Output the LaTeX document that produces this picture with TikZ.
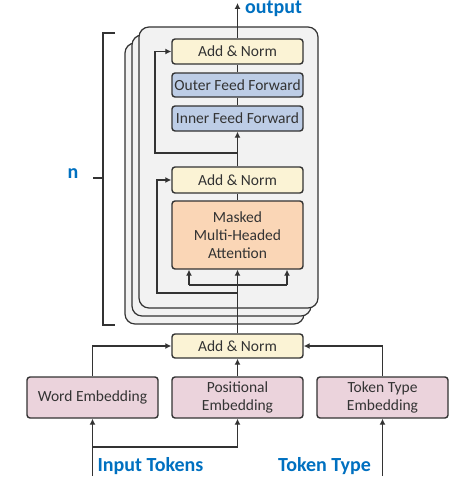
\documentclass[tikz,border=0pt]{standalone}
\usepackage{fontspec}
\setmainfont{Carlito}
\usetikzlibrary{arrows.meta}
\definecolor{normc}{HTML}{FBF3D5}
\definecolor{ffc}{HTML}{BDCDE6}
\definecolor{attc}{HTML}{FAD6B6}
\definecolor{embc}{HTML}{EBD3DC}
\definecolor{panelc}{HTML}{F2F2F2}
\definecolor{edgec}{HTML}{333333}
\definecolor{labc}{RGB}{0,112,192}
\tikzset{
  blk/.style={draw=edgec, line width=1.4pt, rounded corners=3pt, minimum width=131pt, inner sep=0pt, align=center, font=\fontsize{15.5}{18}\selectfont, text=black!80},
  norm/.style={blk, fill=normc},
  ff/.style={blk, fill=ffc},
  att/.style={blk, fill=attc},
  emb/.style={blk, fill=embc},
  panel/.style={draw=edgec, line width=1.2pt, fill=panelc, rounded corners=10pt},
  conn/.style={draw=edgec, line width=1.5pt},
  arr/.style={conn, -{Latex[length=6pt,width=6pt]}},
  lab/.style={text=labc, font=\bfseries\fontsize{20}{22}\selectfont, inner sep=0pt, anchor=base}
}
\begin{document}
\begin{tikzpicture}[x=1pt,y=-1pt]
\useasboundingbox (0,0) rectangle (474,495);
% stacked panels
\draw[panel] (125,43) rectangle (304,324);
\draw[panel] (132,35) rectangle (311,316);
\draw[panel] (139,27) rectangle (318,308);
% bracket
\draw[conn, line width=1.3pt] (115,33) -- (103,33) -- (103,325) -- (115,325);
\draw[conn, line width=1.3pt] (103,178) -- (93,178);
\node[lab] (nlab) at (73,178) {n};
% blocks
\node[norm, minimum height=25pt] (an3) at (237.5,51.5) {Add \& Norm};
\node[ff, minimum height=24pt] (off) at (237.5,85) {Outer Feed Forward};
\node[ff, minimum height=25pt] (iff) at (237.5,118.5) {Inner Feed Forward};
\node[norm, minimum height=26pt] (an2) at (237.5,180) {Add \& Norm};
\node[att, minimum height=68pt] (mha) at (237.5,235) {Masked\\Multi-Headed\\Attention};
\node[norm, minimum height=24pt] (an1) at (237.5,346) {Add \& Norm};
\node[emb, minimum height=41pt] (we) at (92.5,397.5) {Word Embedding};
\node[emb, minimum height=41pt] (pe) at (237.5,397.5) {Positional\\Embedding};
\node[emb, minimum height=41pt] (te) at (382.5,397.5) {Token Type\\Embedding};
% coordinates
\coordinate (out) at (237.5,3);
\coordinate (ma) at (189,285);
\coordinate (mc) at (287,285);
\coordinate (r1) at (237.5,293);
\coordinate (r1l) at (157,293);
\coordinate (r2) at (237.5,153);
\coordinate (r2l) at (155,153);
\coordinate (inA) at (92.5,476);
\coordinate (inB) at (92.5,447);
\coordinate (inC) at (382.5,476);
% connectors
\draw[arr] (an1.north) -- (mha.south);
\draw[conn] (ma) -- (mc);
\draw[arr] (ma) -- (ma |- mha.south);
\draw[arr] (mc) -- (mc |- mha.south);
\draw[arr] (r1) -- (r1l) |- (an2.west);
\draw[conn] (mha.north) -- (an2.south);
\draw[arr] (an2.north) -- (iff.south);
\draw[arr] (r2) -- (r2l) |- (an3.west);
\draw[conn] (iff.north) -- (off.south);
\draw[conn] (off.north) -- (an3.south);
\draw[arr] (an3.north) -- (out);
\draw[arr] (we.north) |- (an1.west);
\draw[arr] (pe.north) -- (an1.south);
\draw[arr] (te.north) |- (an1.east);
\draw[arr] (inA) -- (we.south);
\draw[arr] (inB) -| (pe.south);
\draw[arr] (inC) -- (te.south);
% labels
\node[lab] (outlab) at (273.5,14) {output};
\node[lab] (inlab) at (150.5,471) {Input Tokens};
\node[lab] (ttlab) at (324.5,471) {Token Type};
\end{tikzpicture}
\end{document}
